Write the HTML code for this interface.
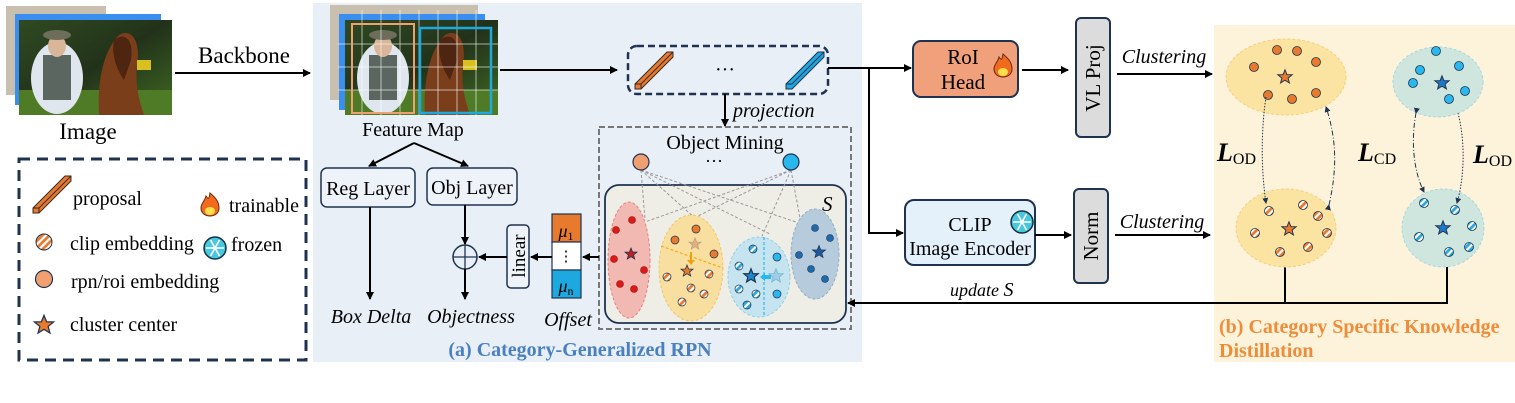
<!DOCTYPE html>
<html><head><meta charset="utf-8"><style>
html,body{margin:0;padding:0;background:#fff}
svg{display:block;font-family:"Liberation Serif",serif}
</style></head><body>
<svg width="1515" height="403" viewBox="0 0 1515 403" xmlns="http://www.w3.org/2000/svg">
<defs>
<marker id="ah" markerWidth="8" markerHeight="8" refX="7" refY="4" orient="auto" markerUnits="userSpaceOnUse"><path d="M0,0 L8,4 L0,8 z" fill="#000"/></marker>
<marker id="ahs" markerWidth="6" markerHeight="6" refX="5" refY="3" orient="auto" markerUnits="userSpaceOnUse"><path d="M0,0 L6,3 L0,6 z" fill="#1f3350"/></marker>
<pattern id="so" width="5" height="5" patternUnits="userSpaceOnUse" patternTransform="rotate(45)"><rect width="5" height="5" fill="#fff"/><rect width="2.8" height="5" fill="#e87a2e"/></pattern>
<pattern id="sb" width="5" height="5" patternUnits="userSpaceOnUse" patternTransform="rotate(45)"><rect width="5" height="5" fill="#fff"/><rect width="2.8" height="5" fill="#29a8e0"/></pattern>
<linearGradient id="ph" x1="0" y1="0" x2="1" y2="1"><stop offset="0" stop-color="#2f4a22"/><stop offset="0.5" stop-color="#22321a"/><stop offset="1" stop-color="#3f6a22"/></linearGradient>
<g id="photo">
<rect x="0" y="0" width="153" height="95" fill="url(#ph)"/>
<rect x="0" y="70" width="153" height="25" fill="#4f7a26"/>
<ellipse cx="38" cy="58" rx="26" ry="36" fill="#dfe6ee"/>
<rect x="24" y="35" width="28" height="45" fill="#5b6660"/>
<ellipse cx="38" cy="26" rx="9" ry="11" fill="#d9b59a"/>
<ellipse cx="38" cy="15" rx="14" ry="5" fill="#6d6d5a"/>
<path d="M80,95 C78,60 85,30 100,15 C112,8 122,20 118,45 C116,65 120,80 125,95 z" fill="#7a3e1a"/>
<path d="M95,20 C105,12 115,18 112,40 L105,60 C98,50 92,35 95,20z" fill="#4e2510"/>
<rect x="118" y="40" width="14" height="10" fill="#d8c020"/>
</g>
<g id="bar">
<path d="M0,32 L32,0 L38,0 L38,5 L6,37 L0,37 z" fill="#e87a2e" stroke="#3a2a20" stroke-width="1"/>
<path d="M0,32 L6,32 L38,0" fill="none" stroke="#3a2a20" stroke-width="1"/>
<line x1="6" y1="32" x2="6" y2="37" stroke="#3a2a20"/>
</g>
<g id="fire"><path d="M0,-11 C6,-6 9,-2 9,4 C9,9 5,12 0,12 C-5,12 -9,9 -9,4 C-9,-1 -5,-3 -4,-8 C-2,-5 -1,-4 0,-11z" fill="#f26b1d" stroke="#6a2a10" stroke-width="1"/><ellipse cx="0" cy="7" rx="5" ry="4" fill="#ffe04a"/></g>
<g id="snow"><circle r="11" fill="#48c8e0" stroke="#173040" stroke-width="1.5"/><g stroke="#fff" stroke-width="1.6"><line x1="-9" y1="0" x2="9" y2="0"/><line x1="-4.5" y1="-8" x2="4.5" y2="8"/><line x1="4.5" y1="-8" x2="-4.5" y2="8"/></g></g>
<path id="star" d="M0,-6 L1.6,-2 L6,-1.9 L2.6,0.9 L3.7,5 L0,2.7 L-3.7,5 L-2.6,0.9 L-6,-1.9 L-1.6,-2 z"/>
</defs>

<rect x="313" y="3" width="549" height="359" fill="#e9eff7"/>
<rect x="1214" y="25" width="301" height="337" fill="#fdf3da"/>

<!-- Image -->
<rect x="6" y="6" width="100" height="89" fill="#c9bfae"/>
<rect x="15" y="14" width="146" height="91" fill="#3a8ef0"/>
<use href="#photo" x="19" y="20"/>
<text x="88" y="139" font-size="23" text-anchor="middle">Image</text>
<text x="244" y="63" font-size="23" text-anchor="middle">Backbone</text>
<line x1="175" y1="73" x2="310" y2="73" stroke="#000" stroke-width="2" marker-end="url(#ah)"/>

<!-- Legend -->
<rect x="19" y="159" width="287" height="201" fill="none" stroke="#1f3350" stroke-width="3" stroke-dasharray="11,7"/>
<use href="#bar" x="33" y="176"/>
<text x="73" y="205" font-size="20">proposal</text>
<use href="#fire" x="210" y="204"/>
<text x="229" y="212" font-size="20">trainable</text>
<circle cx="44" cy="242" r="8" fill="url(#so)" stroke="#1f3350" stroke-width="1"/>
<text x="70" y="250" font-size="20">clip embedding</text>
<use href="#snow" x="215" y="248"/>
<text x="231" y="251" font-size="20">frozen</text>
<circle cx="44" cy="279" r="8.5" fill="#f0a070" stroke="#1f3350" stroke-width="1.2"/>
<text x="71" y="288" font-size="20">rpn/roi embedding</text>
<use href="#star" fill="#e87a2e" stroke="#1f3350" stroke-width="0.8" transform="translate(44 325) scale(1.6)"/>
<text x="70" y="331" font-size="20">cluster center</text>

<!-- Feature map -->
<rect x="330" y="5" width="148" height="95" fill="#c9bfae"/>
<rect x="339" y="14" width="146" height="96" fill="#3a8ef0"/>
<use href="#photo" x="345" y="20"/>
<g stroke="#ffffff" stroke-opacity="0.6" stroke-width="1">
<line x1="362" y1="10" x2="362" y2="118"/><line x1="381" y1="10" x2="381" y2="118"/><line x1="400" y1="10" x2="400" y2="118"/><line x1="419" y1="10" x2="419" y2="118"/><line x1="438" y1="10" x2="438" y2="118"/><line x1="457" y1="10" x2="457" y2="118"/><line x1="476" y1="10" x2="476" y2="118"/>
<line x1="338" y1="44" x2="498" y2="44"/><line x1="338" y1="67" x2="498" y2="67"/><line x1="338" y1="90" x2="498" y2="90"/>
</g>
<rect x="352" y="24" width="62" height="89" fill="none" stroke="#f0a070" stroke-width="2"/>
<rect x="420" y="28" width="71" height="85" fill="none" stroke="#1ea8e0" stroke-width="2.5"/>
<text x="413" y="136" font-size="20" text-anchor="middle">Feature Map</text>

<line x1="500" y1="70" x2="617" y2="70" stroke="#000" stroke-width="2" marker-end="url(#ah)"/>
<rect x="628" y="46" width="200" height="48" rx="9" fill="none" stroke="#1f3350" stroke-width="2.5" stroke-dasharray="7,4"/>
<use href="#bar" x="635" y="52"/>
<g transform="translate(786 52)"><path d="M0,32 L32,0 L38,0 L38,5 L6,37 L0,37 z" fill="#1ea8e0" stroke="#1f3350" stroke-width="1"/><path d="M0,32 L6,32 L38,0" fill="none" stroke="#1f3350"/></g>
<text x="725" y="76" font-size="20" text-anchor="middle">···</text>
<line x1="725" y1="94" x2="725" y2="126" stroke="#000" stroke-width="2" marker-end="url(#ah)"/>
<text x="733" y="117" font-size="20" font-style="italic">projection</text>

<!-- Object mining -->
<rect x="599" y="127" width="252" height="202" fill="none" stroke="#777" stroke-width="2" stroke-dasharray="6,3"/>
<text x="725" y="149" font-size="20" text-anchor="middle">Object Mining</text>
<text x="714" y="167" font-size="18" text-anchor="middle">···</text>
<rect x="605" y="185" width="241" height="138" rx="14" fill="#efeee6" stroke="#1f3350" stroke-width="1.8"/>
<g stroke="#999" stroke-width="1" stroke-dasharray="3,2">
<line x1="641" y1="170" x2="645" y2="220"/><line x1="641" y1="170" x2="770" y2="234"/><line x1="641" y1="170" x2="796" y2="222"/><line x1="641" y1="170" x2="695" y2="218"/>
<line x1="791" y1="170" x2="645" y2="222"/><line x1="791" y1="170" x2="698" y2="216"/><line x1="791" y1="170" x2="762" y2="236"/><line x1="791" y1="170" x2="800" y2="218"/>
</g>
<circle cx="641" cy="162" r="8" fill="#f0a070" stroke="#1f3350" stroke-width="1.2"/>
<circle cx="791" cy="162" r="8" fill="#29b8ee" stroke="#1f3350" stroke-width="1.2"/>
<text x="822" y="211" font-size="21" font-style="italic">S</text>

<ellipse cx="629" cy="260" rx="21" ry="58" fill="#f2b8b2" stroke="#e88080" stroke-dasharray="3,2"/>
<ellipse cx="691" cy="268" rx="32" ry="53" fill="#f8dfa0" stroke="#f0c860" stroke-dasharray="3,2"/>
<ellipse cx="759" cy="277" rx="31" ry="40" fill="#c6e4ef" stroke="#8cd0ea" stroke-dasharray="3,2"/>
<ellipse cx="815" cy="254" rx="24" ry="45" fill="#b6cbdc" stroke="#8fb0cc" stroke-dasharray="3,2"/>
<g fill="#e01818" stroke="#8a1010" stroke-width="0.6">
<circle cx="632" cy="220" r="3.5"/><circle cx="616" cy="230" r="3.5"/><circle cx="614" cy="259" r="3.5"/><circle cx="644" cy="270" r="3.5"/><circle cx="620" cy="284" r="3.5"/><circle cx="634" cy="289" r="3.5"/></g>
<use href="#star" fill="#c02020" stroke="#1f3350" stroke-width="0.8" transform="translate(631 254)"/>
<line x1="661" y1="246" x2="723" y2="268" stroke="#f0b020" stroke-width="1.3" stroke-dasharray="3,2"/>
<g fill="#e87a2e" stroke="#1f3350" stroke-width="0.7"><circle cx="696" cy="229" r="4"/><circle cx="675" cy="240" r="4"/><circle cx="714" cy="254" r="4"/></g>
<g fill="url(#so)" stroke="#1f3350" stroke-width="0.7"><circle cx="667" cy="277" r="4"/><circle cx="709" cy="274" r="4"/><circle cx="691" cy="288" r="4"/><circle cx="704" cy="294" r="4"/><circle cx="682" cy="302" r="4"/></g>
<use href="#star" fill="#e0b080" stroke="#c0a080" stroke-width="0.8" transform="translate(695 244)"/>
<use href="#star" fill="#e87a2e" stroke="#1f3350" stroke-width="0.8" transform="translate(687 271)"/>
<path d="M690,252 L690,260 L687,260 L691,265 L695,260 L692,260 L692,252z" fill="#f0a010"/>
<line x1="764" y1="237" x2="764" y2="317" stroke="#29b8ee" stroke-width="1.2" stroke-dasharray="3,2"/>
<g fill="url(#sb)" stroke="#1f3350" stroke-width="0.7"><circle cx="753" cy="249" r="4"/><circle cx="739" cy="266" r="4"/><circle cx="739" cy="289" r="4"/><circle cx="756" cy="294" r="4"/><circle cx="747" cy="305" r="4"/></g>
<g fill="#29b8ee" stroke="#1f3350" stroke-width="0.7"><circle cx="777" cy="257" r="4"/><circle cx="777" cy="294" r="4"/></g>
<use href="#star" fill="#1e88d0" stroke="#1f3350" stroke-width="1" transform="translate(751 276) scale(1.2)"/>
<use href="#star" fill="#9cd0e8" stroke="#80b8d0" stroke-width="0.8" transform="translate(776 276) scale(1.2)"/>
<path d="M771,275 L765,275 L765,273 L760,277 L765,281 L765,279 L771,279z" fill="#29b8ee"/>
<g fill="#1e6aaa" stroke="#1f3350" stroke-width="0.6"><circle cx="815" cy="228" r="3.5"/><circle cx="830" cy="238" r="3.5"/><circle cx="799" cy="255" r="3.5"/><circle cx="811" cy="269" r="3.5"/><circle cx="825" cy="279" r="3.5"/></g>
<use href="#star" fill="#1e5a9a" stroke="#1f3350" stroke-width="0.6" transform="translate(819 252) scale(1.1)"/>

<!-- RPN heads -->
<line x1="414" y1="143" x2="369" y2="166" stroke="#000" stroke-width="2" marker-end="url(#ah)"/>
<line x1="414" y1="143" x2="468" y2="166" stroke="#000" stroke-width="2" marker-end="url(#ah)"/>
<rect x="321" y="168" width="94" height="39" rx="6" fill="#eef3fa" stroke="#1f3350" stroke-width="1.5"/>
<text x="368" y="195" font-size="20" text-anchor="middle">Reg Layer</text>
<rect x="427" y="168" width="90" height="37" rx="6" fill="#eef3fa" stroke="#1f3350" stroke-width="1.5"/>
<text x="472" y="194" font-size="20" text-anchor="middle">Obj Layer</text>
<line x1="370" y1="207" x2="370" y2="299" stroke="#000" stroke-width="2" marker-end="url(#ah)"/>
<line x1="465" y1="205" x2="465" y2="244" stroke="#000" stroke-width="2" marker-end="url(#ah)"/>
<circle cx="465" cy="257" r="12" fill="none" stroke="#1f3350" stroke-width="1.5"/>
<line x1="453" y1="257" x2="477" y2="257" stroke="#1f3350" stroke-width="1.3"/><line x1="465" y1="245" x2="465" y2="269" stroke="#1f3350" stroke-width="1.3"/>
<line x1="465" y1="269" x2="465" y2="299" stroke="#000" stroke-width="2" marker-end="url(#ah)"/>
<text x="371" y="323" font-size="20" font-style="italic" text-anchor="middle">Box Delta</text>
<text x="471" y="323" font-size="20" font-style="italic" text-anchor="middle">Objectness</text>
<rect x="507" y="225" width="22" height="63" rx="4" fill="#eef3fa" stroke="#1f3350" stroke-width="1.5"/>
<text transform="translate(525 256) rotate(-90)" font-size="19" text-anchor="middle">linear</text>
<rect x="552" y="214" width="29" height="28" fill="#e87a2e" stroke="#1f3350" stroke-width="1.2"/>
<rect x="552" y="242" width="29" height="28" fill="#fff" stroke="#1f3350" stroke-width="1.2"/>
<rect x="552" y="270" width="29" height="28" fill="#1ea8e0" stroke="#1f3350" stroke-width="1.2"/>
<text x="566" y="237" font-size="18" font-style="italic" text-anchor="middle">μ<tspan font-size="12" font-style="normal" dy="3">1</tspan></text>
<text x="566" y="261" font-size="15" text-anchor="middle">⋮</text>
<text x="566" y="292" font-size="18" font-style="italic" text-anchor="middle">μ<tspan font-size="12" font-style="normal" dy="3">n</tspan></text>
<line x1="599" y1="257" x2="583" y2="257" stroke="#000" stroke-width="2" marker-end="url(#ah)"/>
<line x1="552" y1="257" x2="531" y2="257" stroke="#000" stroke-width="2" marker-end="url(#ah)"/>
<line x1="507" y1="257" x2="479" y2="257" stroke="#000" stroke-width="2" marker-end="url(#ah)"/>
<text x="568" y="326" font-size="20" font-style="italic" text-anchor="middle">Offset</text>
<text x="580" y="356" font-size="20" font-weight="bold" fill="#4a80c0" text-anchor="middle">(a) Category-Generalized RPN</text>

<!-- right side -->
<line x1="828" y1="68" x2="911" y2="68" stroke="#000" stroke-width="2" marker-end="url(#ah)"/>
<polyline points="869,68 869,233 903,233" fill="none" stroke="#000" stroke-width="2" marker-end="url(#ah)"/>
<rect x="913" y="41" width="105" height="56" rx="8" fill="#f0a07a" stroke="#1f3350" stroke-width="2"/>
<text x="963" y="64" font-size="21" text-anchor="middle">RoI</text>
<text x="963" y="89" font-size="21" text-anchor="middle">Head</text>
<use href="#fire" x="1003" y="65"/>
<line x1="1022" y1="70" x2="1068" y2="70" stroke="#000" stroke-width="2" marker-end="url(#ah)"/>
<rect x="1076" y="18" width="34" height="119" rx="5" fill="#dcdcdc" stroke="#1f3350" stroke-width="2"/>
<text transform="translate(1100 78) rotate(-90)" font-size="21" text-anchor="middle">VL Proj</text>
<text x="1164" y="63" font-size="20" font-style="italic" text-anchor="middle">Clustering</text>
<line x1="1117" y1="74" x2="1212" y2="74" stroke="#000" stroke-width="2" marker-end="url(#ah)"/>

<rect x="905" y="200" width="130" height="65" rx="9" fill="#e4f1fb" stroke="#1f3350" stroke-width="2"/>
<text x="970" y="231" font-size="20" text-anchor="middle">CLIP</text>
<text x="970" y="255" font-size="20" text-anchor="middle">Image Encoder</text>
<use href="#snow" x="1022" y="222"/>
<line x1="1035" y1="235" x2="1071" y2="235" stroke="#000" stroke-width="2" marker-end="url(#ah)"/>
<rect x="1074" y="189" width="34" height="94" rx="5" fill="#dcdcdc" stroke="#1f3350" stroke-width="2"/>
<text transform="translate(1098 236) rotate(-90)" font-size="21" text-anchor="middle">Norm</text>
<text x="1162" y="228" font-size="20" font-style="italic" text-anchor="middle">Clustering</text>
<line x1="1115" y1="235" x2="1210" y2="235" stroke="#000" stroke-width="2" marker-end="url(#ah)"/>

<text x="950" y="296" font-size="18" font-style="italic">update <tspan font-size="20">S</tspan></text>
<polyline points="1285,267 1285,303" fill="none" stroke="#000" stroke-width="2"/>
<polyline points="1447,267 1447,303 848,303" fill="none" stroke="#000" stroke-width="2" marker-end="url(#ah)"/>

<!-- clusters -->
<ellipse cx="1286" cy="77" rx="60" ry="38" fill="#fbe3a2" stroke="#f5d080" stroke-dasharray="3,2"/>
<ellipse cx="1438" cy="82" rx="45" ry="35" fill="#cfe6df" stroke="#a8d8e0" stroke-dasharray="3,2"/>
<ellipse cx="1286" cy="228" rx="50" ry="39" fill="#fbe3a2" stroke="#f5d080" stroke-dasharray="3,2"/>
<ellipse cx="1443" cy="228" rx="41" ry="39" fill="#cfe6df" stroke="#a8d8e0" stroke-dasharray="3,2"/>
<g fill="#e87a2e" stroke="#1f3350" stroke-width="0.8"><circle cx="1277" cy="50" r="4.5"/><circle cx="1297" cy="51" r="4.5"/><circle cx="1316" cy="62" r="4.5"/><circle cx="1254" cy="67" r="4.5"/><circle cx="1268" cy="95" r="4.5"/><circle cx="1292" cy="99" r="4.5"/><circle cx="1316" cy="93" r="4.5"/></g>
<use href="#star" fill="#e87a2e" stroke="#1f3350" stroke-width="0.8" transform="translate(1285 77) scale(1.2)"/>
<g fill="#29b8ee" stroke="#1f3350" stroke-width="0.8"><circle cx="1436" cy="51" r="4.5"/><circle cx="1420" cy="70" r="4.5"/><circle cx="1459" cy="66" r="4.5"/><circle cx="1413" cy="83" r="4.5"/><circle cx="1465" cy="91" r="4.5"/><circle cx="1449" cy="99" r="4.5"/></g>
<use href="#star" fill="#1e78c8" stroke="#1f3350" stroke-width="0.8" transform="translate(1442 83) scale(1.2)"/>
<g fill="url(#so)" stroke="#1f3350" stroke-width="0.8"><circle cx="1269" cy="211" r="4.5"/><circle cx="1303" cy="205" r="4.5"/><circle cx="1318" cy="216" r="4.5"/><circle cx="1255" cy="233" r="4.5"/><circle cx="1327" cy="233" r="4.5"/><circle cx="1280" cy="252" r="4.5"/><circle cx="1308" cy="247" r="4.5"/></g>
<use href="#star" fill="#e87a2e" stroke="#1f3350" stroke-width="0.8" transform="translate(1289 229) scale(1.2)"/>
<g fill="url(#sb)" stroke="#1f3350" stroke-width="0.8"><circle cx="1424" cy="203" r="4.5"/><circle cx="1455" cy="210" r="4.5"/><circle cx="1472" cy="226" r="4.5"/><circle cx="1419" cy="237" r="4.5"/><circle cx="1469" cy="247" r="4.5"/><circle cx="1449" cy="252" r="4.5"/></g>
<use href="#star" fill="#1e78c8" stroke="#1f3350" stroke-width="0.8" transform="translate(1443 228) scale(1.2)"/>

<g fill="none" stroke="#1f3350" stroke-width="1">
<path d="M1266,97 C1261,130 1261,170 1266,203" stroke-dasharray="1.5,1.5" marker-end="url(#ahs)"/>
<path d="M1329,205 C1337,170 1337,140 1326,107" stroke-dasharray="5,2,1,2" marker-end="url(#ahs)" marker-start="url(#ahs)"/>
<path d="M1416,113 C1411,140 1413,170 1424,192" stroke-dasharray="5,2,1,2" marker-end="url(#ahs)" marker-start="url(#ahs)"/>
<path d="M1458,113 C1465,140 1465,175 1457,203" stroke-dasharray="1.5,1.5" marker-end="url(#ahs)"/>
</g>
<text x="1217" y="161" font-size="26" font-weight="bold" font-style="italic">L<tspan font-size="16" font-weight="normal" font-style="normal" dy="3">OD</tspan></text>
<text x="1358" y="161" font-size="26" font-weight="bold" font-style="italic">L<tspan font-size="16" font-weight="normal" font-style="normal" dy="3">CD</tspan></text>
<text x="1473" y="163" font-size="26" font-weight="bold" font-style="italic">L<tspan font-size="16" font-weight="normal" font-style="normal" dy="3">OD</tspan></text>
<text x="1219" y="333" font-size="20" font-weight="bold" fill="#ef8c3a">(b) Category Specific Knowledge</text>
<text x="1219" y="357" font-size="20" font-weight="bold" fill="#ef8c3a">Distillation</text>
</svg>
</body></html>
